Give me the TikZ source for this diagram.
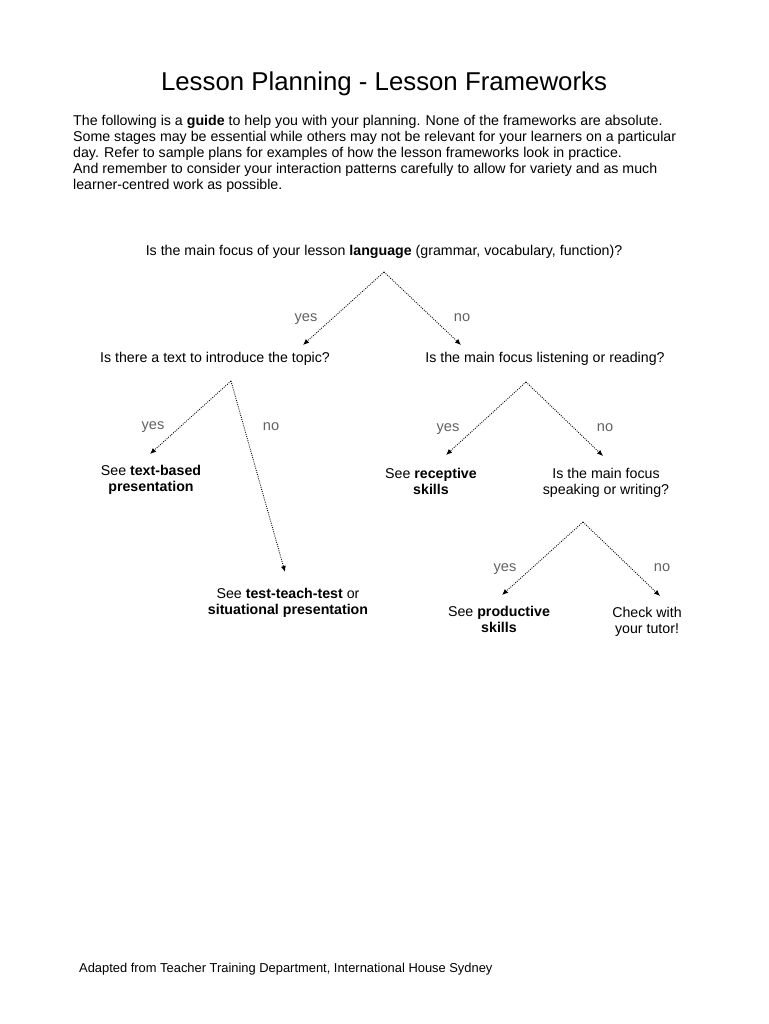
\documentclass[tikz,border=0pt]{standalone}
\usepackage{fontspec}
\setmainfont{Liberation Sans}
\usepackage{tikz}
\usetikzlibrary{arrows.meta}
\tikzstyle{question} = [font=\fontsize{14.2}{16}\selectfont, align=center, inner sep=0pt, anchor=base]
\tikzstyle{answer} = [font=\fontsize{14.2}{16}\selectfont, align=center, inner sep=0pt, anchor=base]
\tikzstyle{choice} = [font=\fontsize{14.6}{16}\selectfont, text=black!62, inner sep=0pt, anchor=base]
\tikzstyle{branch} = [dash pattern=on 0.9pt off 1.3pt, line width=0.9pt, -{Latex[length=6pt,width=5pt]}]

\begin{document}
\begin{tikzpicture}[x=1pt,y=-1pt]
\useasboundingbox (0,0) rectangle (768,1024);
\node[font=\fontsize{25.8}{30}\selectfont, inner sep=0pt, anchor=base] (title) at (384,91) {Lesson Planning - Lesson Frameworks};
% multi-line nodes sit on their last baseline
\node[font=\fontsize{14.2}{16}\selectfont, align=left, inner sep=0pt, anchor=base west] (intro) at (73,190) {%
    The following is a \textbf{guide} to help you with your planning. None of the frameworks are absolute.\\
    Some stages may be essential while others may not be relevant for your learners on a particular\\
    day. Refer to sample plans for examples of how the lesson frameworks look in practice.\\
    And remember to consider your interaction patterns carefully to allow for variety and as much\\
    learner-centred work as possible.};
% questions
\node[question] (lang) at (384,255) {Is the main focus of your lesson \textbf{language} (grammar, vocabulary, function)?};
\node[question] (text) at (215,362) {Is there a text to introduce the topic?};
\node[question] (listen) at (545,362) {Is the main focus listening or reading?};
\node[question] (speak) at (606,494) {Is the main focus\\speaking or writing?};
% answers
\node[answer] (textbased) at (151,491) {See \textbf{text-based}\\\textbf{presentation}};
\node[answer] (ttt) at (288,614) {See \textbf{test-teach-test} or\\\textbf{situational presentation}};
\node[answer] (receptive) at (431,494) {See \textbf{receptive}\\\textbf{skills}};
\node[answer] (productive) at (499,632) {See \textbf{productive}\\\textbf{skills}};
\node[answer] (tutor) at (647,633) {Check with\\your tutor!};
% split points and arrow ends
\coordinate (langsplit) at (384,272);
\coordinate (langyes) at (303,345);
\coordinate (langno) at (461,345);
\coordinate (textsplit) at (231,381);
\coordinate (textyes) at (150,454);
\coordinate (textno) at (285,572);
\coordinate (listensplit) at (526,382);
\coordinate (listenyes) at (446,455);
\coordinate (listenno) at (603,456);
\coordinate (speaksplit) at (583,522);
\coordinate (speakyes) at (502,595);
\coordinate (speakno) at (660,596);
\draw[branch] (langsplit) -- (langyes);
\draw[branch] (langsplit) -- (langno);
\draw[branch] (textsplit) -- (textyes);
\draw[branch] (textsplit) -- (textno);
\draw[branch] (listensplit) -- (listenyes);
\draw[branch] (listensplit) -- (listenno);
\draw[branch] (speaksplit) -- (speakyes);
\draw[branch] (speaksplit) -- (speakno);
% yes / no labels
\node[choice] (langy) at (306,321) {yes};
\node[choice] (langn) at (462,321) {no};
\node[choice] (texty) at (153,429) {yes};
\node[choice] (textn) at (271,430) {no};
\node[choice] (listeny) at (448,431) {yes};
\node[choice] (listenn) at (605,431) {no};
\node[choice] (speaky) at (505,571) {yes};
\node[choice] (speakn) at (662,571) {no};
\node[font=\fontsize{12.9}{15}\selectfont, inner sep=0pt, anchor=base west] (source) at (79,972) {Adapted from Teacher Training Department, International House Sydney};
\end{tikzpicture}
\end{document}
